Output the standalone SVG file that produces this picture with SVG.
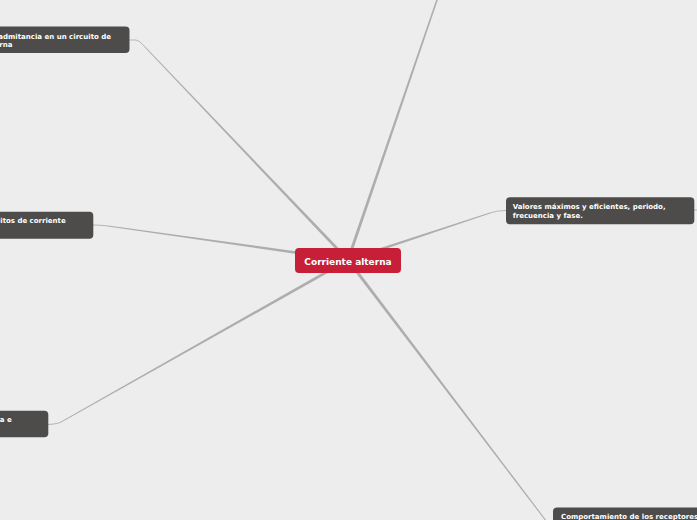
<svg xmlns="http://www.w3.org/2000/svg" width="697" height="520" viewBox="0 0 697 520">
<style>
.bg{fill:#ededed}
.box{fill:#4d4c4a}
.lbl{fill:#ffffff;font-family:"DejaVu Sans",Verdana,sans-serif;font-weight:bold;font-size:7px}
.main{fill:#c81f38}
.mlbl{fill:#ffffff;font-family:"DejaVu Sans",Verdana,sans-serif;font-weight:bold;font-size:9px}
.br{fill:#adadad}
.tip{fill:none;stroke:#b5b5b5;stroke-width:1}
</style>
<rect class="bg" x="0" y="0" width="697" height="520"/>
<g id="connectors">
<polygon class="br" points="349.09,258.97 145.36,46.66 144.64,47.35 346.91,261.03"/>
<path class="tip" d="M129,40 L136,40 Q140,40.5 145,47"/>
<polygon class="br" points="349.42,260.49 441.1,-9.76 439.7,-10.24 346.58,259.51"/>
<polygon class="br" points="348.47,261.42 490.16,213.47 489.84,212.53 347.53,258.58"/>
<path class="tip" d="M490,213 Q497,210.5 506,210.5"/>
<line class="tip" x1="694" y1="210" x2="697" y2="210"/>
<polygon class="br" points="348.21,258.52 108.07,225.5 107.93,226.5 347.79,261.48"/>
<path class="tip" d="M93,225 Q100,225 108,226"/>
<polygon class="br" points="348.74,261.31 60.25,423.03 59.75,422.17 347.26,258.69"/>
<path class="tip" d="M48,424.5 Q54,424.5 60,422.6"/>
<polygon class="br" points="349.19,259.09 553.4,529.7 552.6,530.3 346.81,260.91"/>
</g>
<g id="node-impedancia">
<rect class="box" x="-10" y="26.5" width="139.5" height="26.5" rx="4"/>
<text class="lbl" x="111" y="38.5" text-anchor="end">admitancia en un circuito de</text>
<text class="lbl" x="12.5" y="47" text-anchor="end">rna</text>
</g>
<g id="node-circuitos">
<rect class="box" x="-10" y="211.7" width="103.3" height="27" rx="4"/>
<text class="lbl" x="65.7" y="223.3" text-anchor="end">uitos de corriente</text>
</g>
<g id="node-inductancia">
<rect class="box" x="-10" y="410.7" width="58.3" height="26.6" rx="4"/>
<text class="lbl" x="11.7" y="422" text-anchor="end">a e</text>
</g>
<g id="node-central">
<rect class="main" x="295" y="248" width="106" height="25" rx="4"/>
<text class="mlbl" x="348" y="264.5" text-anchor="middle">Corriente alterna</text>
</g>
<g id="node-valores">
<rect class="box" x="506" y="197.3" width="188.3" height="27" rx="4"/>
<text class="lbl" x="512.7" y="209">Valores máximos y eficientes, periodo,</text>
<text class="lbl" x="512.7" y="218">frecuencia y fase.</text>
</g>
<g id="node-comportamiento">
<rect class="box" x="553" y="507.5" width="160" height="30" rx="4"/>
<text class="lbl" x="561" y="518.5">Comportamiento de los receptores</text>
</g>
</svg>
